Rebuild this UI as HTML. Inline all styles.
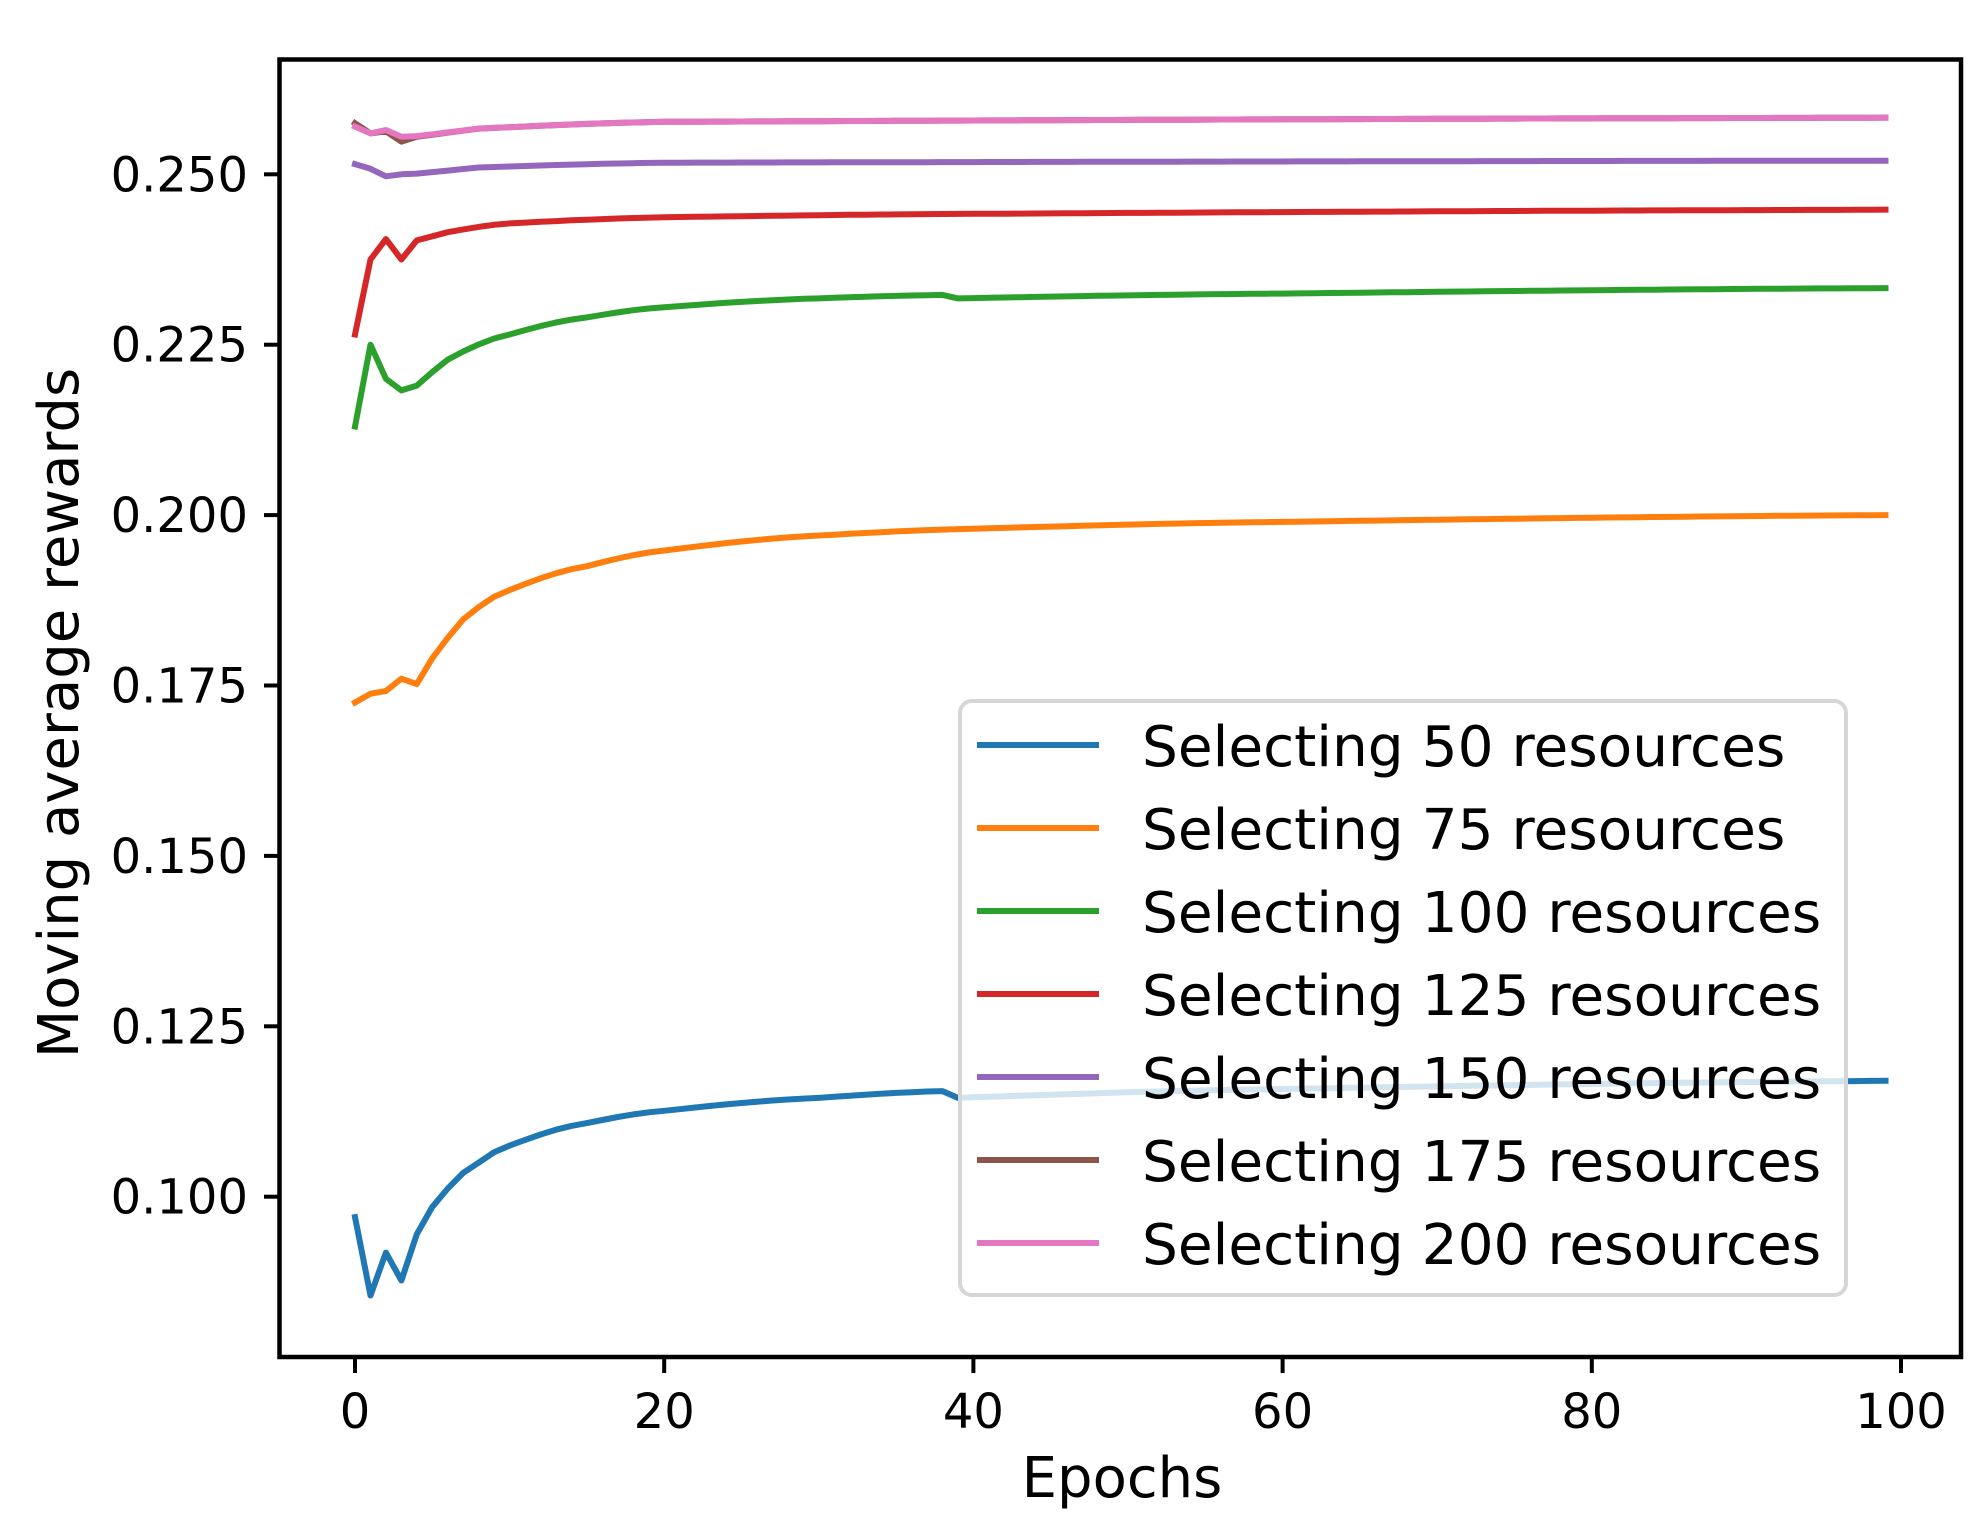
<!DOCTYPE html>
<html><head><meta charset="utf-8"><style>
html,body{margin:0;padding:0;background:#fff;}
svg{display:block;font-family:"DejaVu Sans","Liberation Sans",sans-serif;}
</style></head><body>
<svg id="s" width="1986" height="1525" viewBox="0 0 1986 1525" xmlns="http://www.w3.org/2000/svg">
<rect width="1986" height="1525" fill="#fff"/>
<g id="series" fill="none" stroke-width="6" stroke-linejoin="round" stroke-linecap="square"></g>
<!-- legend -->
<rect x="960" y="701" width="886" height="594" rx="12" fill="#fff" fill-opacity="0.8" stroke="#d6d6d6" stroke-width="4"/>
<g stroke-width="6">
<line x1="977" x2="1099" y1="745" y2="745" stroke="#1f77b4"/>
<line x1="977" x2="1099" y1="828" y2="828" stroke="#ff7f0e"/>
<line x1="977" x2="1099" y1="911" y2="911" stroke="#2ca02c"/>
<line x1="977" x2="1099" y1="994" y2="994" stroke="#d62728"/>
<line x1="977" x2="1099" y1="1077" y2="1077" stroke="#9467bd"/>
<line x1="977" x2="1099" y1="1160" y2="1160" stroke="#8c564b"/>
<line x1="977" x2="1099" y1="1243" y2="1243" stroke="#e377c2"/>
</g>
<g font-size="56.5" fill="#000">
<text x="1142" y="766">Selecting 50 resources</text>
<text x="1142" y="849">Selecting 75 resources</text>
<text x="1142" y="932">Selecting 100 resources</text>
<text x="1142" y="1015">Selecting 125 resources</text>
<text x="1142" y="1098">Selecting 150 resources</text>
<text x="1142" y="1181">Selecting 175 resources</text>
<text x="1142" y="1264">Selecting 200 resources</text>
</g>
<!-- axes -->
<rect x="279.5" y="59.5" width="1681.5" height="1297.5" fill="none" stroke="#000" stroke-width="4.5"/>
<g id="ticks" stroke="#000" stroke-width="4"></g>
<g id="tl" font-size="48" fill="#000"></g>
<text x="1122" y="1497" font-size="56" text-anchor="middle">Epochs</text>
<text transform="translate(78,713) rotate(-90)" font-size="56" text-anchor="middle">Moving average rewards</text>
</svg>
<script>
const X=e=>355+e*15.46, Y=v=>174.3+(0.25-v)*6816;
const NS="http://www.w3.org/2000/svg";
function el(t,a,p){const n=document.createElementNS(NS,t);for(const k in a)n.setAttribute(k,a[k]);p.appendChild(n);return n;}
const tk=document.getElementById('ticks'),tl=document.getElementById('tl');
for(let e=0;e<=100;e+=20){el('line',{x1:X(e),x2:X(e),y1:1359,y2:1373},tk);const t=el('text',{x:X(e),y:1428,'text-anchor':'middle'},tl);t.textContent=e;}
[0.1,0.125,0.15,0.175,0.2,0.225,0.25].forEach(v=>{el('line',{x1:264,x2:278,y1:Y(v),y2:Y(v)},tk);const t=el('text',{x:248,y:Y(v)+17,'text-anchor':'end'},tl);t.textContent=v.toFixed(3);});
function interp(kp){const ks=Object.keys(kp).map(Number).sort((a,b)=>a-b);const out=[];
 for(let e=0;e<=99;e++){let i=0;while(i<ks.length-1&&ks[i+1]<e)i++;
  let a=ks[i],b=ks[Math.min(i+1,ks.length-1)];let v;
  if(e<=a)v=kp[a];else if(b===a)v=kp[a];else{const t=(e-a)/(b-a);const s=(a>=5)?Math.sin(t*Math.PI/2)*0.5+t*0.5:t;v=kp[a]+(kp[b]-kp[a])*s;}
  out.push(v);}return out;}
const S=[
['#1f77b4',{0:0.0970,1:0.0855,2:0.0918,3:0.0877,4:0.0945,5:0.0985,6:0.1012,8:0.1050,10:0.1075,15:0.1108,20:0.1126,30:0.1145,38:0.1155,39:0.1145,60:0.1158,99:0.1170}],
['#ff7f0e',{0:0.1725,1:0.1738,2:0.1742,3:0.1760,4:0.1752,5:0.1790,6:0.1820,8:0.1865,10:0.1890,15:0.1925,20:0.1948,30:0.1970,40:0.1980,60:0.1990,99:0.2000}],
['#2ca02c',{0:0.2130,1:0.2250,2:0.2200,3:0.2183,4:0.2190,5:0.2210,7:0.2240,10:0.2265,15:0.2290,20:0.2305,30:0.2318,38:0.2323,39:0.2318,60:0.2325,99:0.2333}],
['#d62728',{0:0.2265,1:0.2375,2:0.2405,3:0.2375,4:0.2403,6:0.2415,10:0.2428,20:0.2437,40:0.2442,99:0.2448}],
['#9467bd',{0:0.2515,1:0.2508,2:0.2497,3:0.2500,4:0.2501,8:0.2510,20:0.2517,99:0.2520}],
['#8c564b',{0:0.2575,1:0.2560,2:0.2563,3:0.2548,4:0.2555,8:0.2567,20:0.2577,99:0.2583}],
['#e377c2',{0:0.2570,1:0.2560,2:0.2565,3:0.2555,4:0.2556,8:0.2567,20:0.2577,99:0.2583}]];
const g=document.getElementById('series');
S.forEach(([c,kp])=>{const v=interp(kp);el('polyline',{points:v.map((y,e)=>X(e).toFixed(1)+','+Y(y).toFixed(1)).join(' '),stroke:c},g);});
</script>
</body></html>
